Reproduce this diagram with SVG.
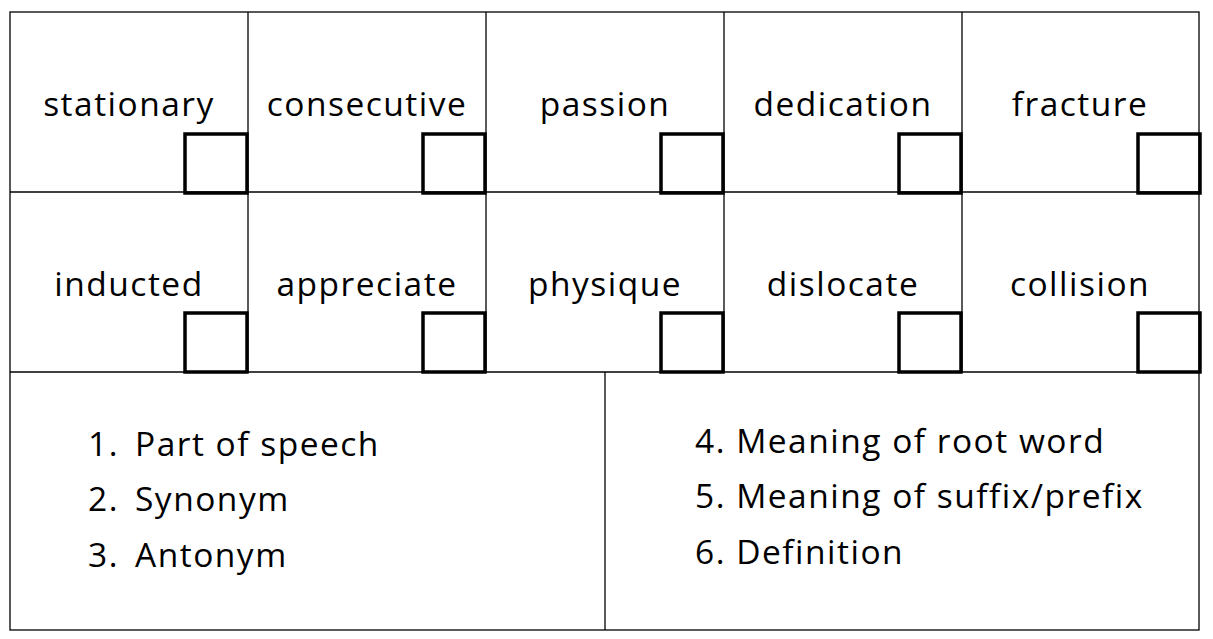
<svg xmlns="http://www.w3.org/2000/svg" width="1213" height="639" viewBox="0 0 1213 639">
<style>
.g{stroke:#000;stroke-width:1.3;fill:none}
.b{stroke:#000;stroke-width:3.5;fill:none}
text{font-family:"Open Sans","Noto Sans",sans-serif;font-size:33.5px;letter-spacing:1.5px;fill:#000}
.w{text-anchor:middle}
</style>
<rect width="1213" height="639" fill="#fff"/>
<g id="grid">
<rect class="g" x="10" y="12" width="1189" height="618"/>
<line class="g" x1="10" y1="192" x2="1199" y2="192"/>
<line class="g" x1="10" y1="372" x2="1199" y2="372"/>
<line class="g" x1="248" y1="12" x2="248" y2="372"/>
<line class="g" x1="486" y1="12" x2="486" y2="372"/>
<line class="g" x1="724" y1="12" x2="724" y2="372"/>
<line class="g" x1="962" y1="12" x2="962" y2="372"/>
<line class="g" x1="605" y1="372" x2="605" y2="630"/>
</g>
<g id="r1">
<text class="w" x="129" y="116">stationary</text>
<text class="w" x="367" y="116">consecutive</text>
<text class="w" x="605" y="116">passion</text>
<text class="w" x="843" y="116">dedication</text>
<text class="w" x="1080" y="116">fracture</text>
<rect class="b" x="185" y="134" width="62" height="59"/>
<rect class="b" x="423" y="134" width="62" height="59"/>
<rect class="b" x="661" y="134" width="62" height="59"/>
<rect class="b" x="899" y="134" width="62" height="59"/>
<rect class="b" x="1138" y="134" width="62" height="59"/>
</g>
<g id="r2">
<text class="w" x="129" y="296">inducted</text>
<text class="w" x="367" y="296">appreciate</text>
<text class="w" x="605" y="296">physique</text>
<text class="w" x="843" y="296">dislocate</text>
<text class="w" x="1080" y="296">collision</text>
<rect class="b" x="185" y="313" width="62" height="59"/>
<rect class="b" x="423" y="313" width="62" height="59"/>
<rect class="b" x="661" y="313" width="62" height="59"/>
<rect class="b" x="899" y="313" width="62" height="59"/>
<rect class="b" x="1138" y="313" width="62" height="59"/>
</g>
<g id="left">
<text x="88" y="456">1.</text><text x="135" y="456">Part of speech</text>
<text x="88" y="511">2.</text><text x="135" y="511">Synonym</text>
<text x="88" y="567">3.</text><text x="135" y="567">Antonym</text>
</g>
<g id="right">
<text x="695" y="453">4. Meaning of root word</text>
<text x="695" y="508">5. Meaning of suffix/prefix</text>
<text x="695" y="564">6. Definition</text>
</g>
</svg>
